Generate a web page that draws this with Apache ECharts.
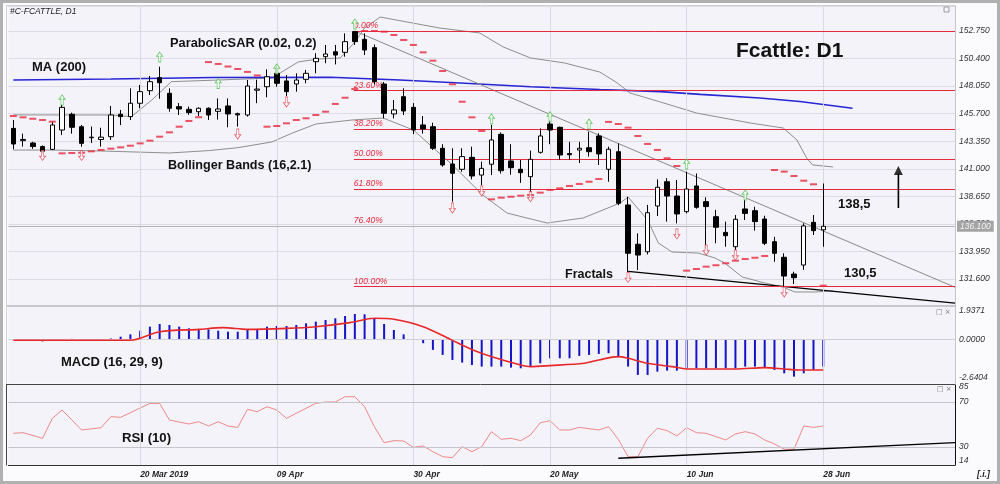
<!DOCTYPE html>
<html><head><meta charset="utf-8">
<script src="https://cdn.jsdelivr.net/npm/echarts@6.0.0/dist/echarts.min.js"></script>
<style>html,body{margin:0;padding:0;background:#fbfbfd}#c{width:1000px;height:484px}</style>
</head><body><div id="c"></div><script>
// ---------- categories ----------
const dates = ['2019-03-01','2019-03-04','2019-03-05','2019-03-06','2019-03-07','2019-03-08','2019-03-11','2019-03-12','2019-03-13','2019-03-14','2019-03-15','2019-03-18','2019-03-19','2019-03-20','2019-03-21','2019-03-22','2019-03-25','2019-03-26','2019-03-27','2019-03-28','2019-03-29',
'2019-04-01','2019-04-02','2019-04-03','2019-04-04','2019-04-05','2019-04-08','2019-04-09','2019-04-10','2019-04-11','2019-04-12','2019-04-15','2019-04-16','2019-04-17','2019-04-18','2019-04-22','2019-04-23','2019-04-24','2019-04-25','2019-04-26','2019-04-29','2019-04-30',
'2019-05-01','2019-05-02','2019-05-03','2019-05-06','2019-05-07','2019-05-08','2019-05-09','2019-05-10','2019-05-13','2019-05-14','2019-05-15','2019-05-16','2019-05-17','2019-05-20','2019-05-21','2019-05-22','2019-05-23','2019-05-24','2019-05-28','2019-05-29','2019-05-30','2019-05-31',
'2019-06-03','2019-06-04','2019-06-05','2019-06-06','2019-06-07','2019-06-10','2019-06-11','2019-06-12','2019-06-13','2019-06-14','2019-06-17','2019-06-18','2019-06-19','2019-06-20','2019-06-21','2019-06-24','2019-06-25','2019-06-26','2019-06-27','2019-06-28',
'2019-07-01','2019-07-02','2019-07-03','2019-07-05','2019-07-08','2019-07-09','2019-07-10','2019-07-11','2019-07-12','2019-07-15','2019-07-16','2019-07-17','2019-07-18'];
const tickDates = ['2019-03-20','2019-04-09','2019-04-30','2019-05-20','2019-06-10','2019-06-28'];
const tickLabels = ['20 Mar 2019','09 Apr','30 Apr','20 May','10 Jun','28 Jun'];
const priceTicks = {min:129.25, max:154.88, interval:2.35};
const macdTicks = [-2.6404, 0, 1.9371];
const rsiTicks = [14, 30, 70, 85];

// ---------- price: [open, close, low, high] ----------
const ohlc = [
[144.45,143.12,142.66,145.16],[143.40,143.50,142.90,144.00],[143.20,142.90,142.70,143.30],[142.90,142.50,142.30,143.00],
[142.66,144.74,142.60,145.02],[144.31,146.24,143.88,146.44],[145.65,144.54,144.00,145.79],[144.59,143.17,142.89,144.74],
[143.65,143.70,143.20,144.60],[143.50,143.70,142.90,144.50],[143.74,145.59,143.46,146.36],[145.65,145.45,144.74,146.02],
[145.45,146.59,145.16,147.86],[146.59,147.58,146.16,148.15],[147.66,148.43,147.29,148.91],[148.77,148.34,146.97,149.71],
[147.44,146.16,145.87,147.86],[146.30,146.10,145.59,146.61],[146.07,145.79,145.60,146.30],[145.87,146.16,145.50,146.24],
[146.16,145.59,145.16,146.24],[145.90,146.10,145.20,147.00],[146.36,145.68,144.54,147.00],[145.70,145.60,144.60,145.80],
[145.59,148.06,145.45,148.57],[147.70,147.80,146.60,148.60],[148.00,148.85,147.10,149.48],[149.14,148.29,148.00,149.80],
[148.49,147.58,147.20,149.00],[148.23,148.57,147.58,149.14],[148.63,149.14,148.29,149.43],[150.13,150.42,149.14,150.85],
[150.56,150.79,150.00,151.56],[150.98,150.70,149.90,151.56],[150.93,151.84,150.56,152.55],[152.70,151.84,151.56,152.75],
[152.04,151.13,150.70,152.55],[151.33,148.43,148.20,151.60],[148.23,145.73,145.30,148.40],[145.68,146.02,145.30,146.87],
[147.15,145.93,145.59,147.86],[146.24,144.31,143.97,146.60],[144.74,144.40,144.00,145.50],[144.59,142.75,142.60,144.93],
[142.75,141.33,141.18,143.10],[141.41,140.62,138.20,142.75],[140.96,142.04,140.75,142.75],[141.98,140.39,140.10,142.89],
[140.47,141.04,139.60,141.61],[141.39,143.46,140.47,144.74],[143.94,140.84,140.60,144.10],[141.67,141.10,140.50,143.10],
[140.96,140.67,139.80,141.75],[140.33,141.81,139.05,142.55],[142.41,143.80,142.30,144.45],[144.82,144.31,143.10,145.16],
[144.54,142.18,141.75,144.59],[142.30,142.20,141.75,143.30],[142.60,142.75,141.50,143.30],[142.80,142.46,142.04,144.17],
[143.80,142.27,141.33,144.03],[140.96,142.67,139.90,142.89],[142.46,138.06,137.90,143.17],[137.92,133.80,132.20,138.62],
[134.57,133.65,132.38,135.50],[133.93,137.26,133.70,137.92],[137.83,139.43,136.98,140.10],[139.90,138.68,136.50,140.20],
[138.68,137.15,136.35,140.05],[137.35,139.28,137.20,140.75],[139.54,137.72,137.60,140.60],[138.20,137.78,134.20,138.57],
[136.92,136.02,134.65,137.50],[135.58,135.30,134.36,136.50],[134.36,136.70,134.08,137.06],[137.58,137.20,136.64,138.34],
[137.43,136.50,135.73,137.77],[136.72,134.65,134.50,137.00],[134.79,133.80,133.08,135.20],[133.46,131.86,130.95,133.80],
[132.03,131.72,131.18,132.23],[132.80,136.13,132.38,136.36],[136.44,135.73,135.36,137.06],[135.80,136.10,134.36,139.75]
];

// ---------- overlays [barIndex, price] ----------
const ma200 = [[0,148.57],[10,148.66],[20.6,148.79],[32.5,148.80],[39.6,148.57],[45.8,148.32],[53,148.00],[60.1,147.76],[66.3,147.58],[70.4,147.35],[76.5,147.04],[80.6,146.74],[86,146.16]];
const bbUpper = [[0,145.60],[6,145.59],[10,145.59],[12.1,145.45],[14.2,146.87],[16.2,148.43],[21,148.57],[26.5,148.74],[29.2,150.11],[31.2,150.36],[33.5,150.45],[35,151.80],[36,153.00],[37.6,153.94],[43.7,153.00],[47.8,152.58],[50.2,151.39],[53,150.45],[56.5,150.02],[60.1,149.25],[61.9,148.32],[63.2,147.46],[66.3,146.70],[70,145.76],[75.5,144.91],[78.9,144.48],[80.3,143.46],[81.3,141.92],[81.9,141.33],[84,141.16]];
const bbLower = [[0,142.60],[4,142.60],[9,142.52],[16,142.35],[20,142.55],[23,142.80],[26.5,143.29],[28.6,144.05],[31,144.82],[34.7,145.16],[37.9,145.33],[41,144.31],[45,141.33],[48.1,138.77],[50.6,137.23],[54.7,136.38],[58.4,136.81],[62.2,138.09],[63,138.60],[65,136.64],[66.1,134.68],[67.5,133.91],[70.2,133.82],[71.9,133.40],[72.9,132.97],[74.7,131.78],[77,131.27],[78.8,130.93],[80.1,130.50],[82.2,130.50],[84,130.60]];
const sar = [145.50,145.39,145.27,145.16,145.02,142.32,142.35,142.37,142.49,142.61,142.72,142.83,142.97,143.17,143.40,143.74,144.11,144.59,145.08,145.40,
150.10,149.94,149.72,149.51,149.26,148.96,144.59,144.65,144.88,145.16,145.31,145.59,145.87,146.53,147.06,147.80,152.75,152.75,152.69,152.41,
151.98,151.56,150.93,150.22,149.34,148.21,146.72,145.39,144.23,138.40,138.54,138.62,138.71,138.77,138.97,139.20,139.34,139.54,139.71,139.90,
140.13,145.00,144.82,144.51,143.80,143.12,142.61,141.90,141.24,132.32,132.46,132.66,132.78,132.95,133.17,133.31,133.42,133.57,140.90,140.76,
140.39,139.99,139.68,131.04];
const fractalUp = [[5,146.87],[15,150.53],[21,148.27],[27,149.51],[35,153.35],[49,145.25],[55,145.44],[59,144.82],[69,141.41],[75,138.77]];
const fractalDown = [[3,142.14],[7,142.14],[23,143.97],[28,146.70],[45,137.66],[48,139.11],[53,138.63],[63,131.74],[68,135.45],[71,134.08],[74,133.65],[79,130.50]];
const fibNames = ['0.00%','23.60%','38.20%','50.00%','61.80%','76.40%','100.00%'];
const fibLevels = [152.75,147.66,144.40,141.83,139.26,136.10,130.95];
const fibStart = 34.9;
const resistLine = [[35,152.75],[96.5,130.90]];
const supportLine = [[63,132.25],[96.5,129.56]];
const upArrow = [[90.7,137.66],[90.7,140.60]];
const upArrowHead = [[90.7,140.85]];

// ---------- MACD ----------
const macd = [-0.03,-0.03,-0.06,-0.12,-0.06,0.01,0.03,-0.01,-0.01,0.01,0.05,0.16,0.30,0.52,0.76,0.92,0.86,0.76,0.66,0.60,
0.60,0.52,0.46,0.46,0.56,0.60,0.76,0.80,0.80,0.86,0.96,1.06,1.16,1.26,1.40,1.52,1.50,1.26,0.92,0.56,
0.30,0.02,-0.23,-0.63,-0.93,-1.23,-1.39,-1.53,-1.63,-1.63,-1.63,-1.69,-1.73,-1.63,-1.43,-1.13,-1.13,-1.13,-0.99,-0.93,
-0.87,-0.83,-1.07,-1.63,-2.13,-2.13,-1.93,-1.87,-1.87,-1.73,-1.73,-1.73,-1.73,-1.73,-1.73,-1.63,-1.63,-1.69,-1.83,-2.03,
-2.23,-2.03,-1.83,-1.63];
const macdSignal = [[0,-0.05],[12,-0.05],[15,0.46],[19,0.60],[21.5,0.70],[24,0.60],[28,0.66],[31,0.76],[34.5,1.00],[37,1.26],[39,1.20],[42,0.76],[44.8,0.00],[47.1,-0.63],[49.2,-1.07],[52,-1.53],[53,-1.63],[55,-1.57],[58.5,-1.43],[60,-1.23],[62,-1.03],[63,-1.13],[65,-1.43],[67.5,-1.63],[69,-1.77],[74,-1.77],[77,-1.69],[79,-1.77],[80.5,-1.83],[83,-1.83]];

// ---------- RSI ----------
const rsi = [[0,42.1],[1,42.7],[3,37.7],[4,55.4],[5,62.8],[7,45.1],[9,47.1],[10,56.9],[11,56.3],[14,68.7],[15,68.7],[16,53.9],[18,50.4],[19,52.4],[20,48.6],[21,52.4],[22,48.6],[23,47.4],[24,63.4],[25,61.3],[26,65.7],[27,62.8],[28,55.4],[29,59.9],[30,64.3],[31,68.7],[32,69.9],[33,69.9],[34,74.6],[35,74.6],[36,65.7],[37,48.0],[38,33.8],[39,35.6],[40,35.3],[41,29.7],[42,30.9],[43,25.8],[44,21.4],[45,20.5],[46,30.3],[47,25.8],[48,30.3],[49,43.6],[50,36.8],[51,37.7],[52,35.6],[53,40.6],[54,51.5],[55,53.3],[56,45.1],[57,45.1],[58,47.4],[59,46.2],[60,45.1],[61,48.0],[62,36.8],[63,21.4],[64,21.4],[65,37.7],[66,46.6],[67,44.5],[68,39.8],[69,47.1],[70,42.7],[71,42.1],[72,39.2],[73,36.2],[74,41.5],[75,43.6],[76,41.5],[77,36.2],[78,32.7],[79,28.0],[80,28.0],[81,48.6],[82,47.4],[83,48.6]];
const rsiLevels = [30, 70];
const rsiTrend = [[62,20.0],[96.5,33.8]];

// ---------- build ----------
const tickIdx = tickDates.map(d => dates.indexOf(d));
const lastClose = ohlc[ohlc.length - 1][1];
const N = dates.length;
const GL = 8.4, GR = 45;
const AX = {fontSize: 8.5, fontStyle: 'italic', color: '#333', fontFamily: '"Liberation Sans", Arial, sans-serif'};
const vGrid = {silent: true, symbol: 'none', label: {show: false}, lineStyle: {color: '#d9d9e3', type: 'solid', width: 1}, data: tickIdx.map(i => ({xAxis: i}))};
const catAxis = (g, showLab) => ({type: 'category', gridIndex: g, data: dates, boundaryGap: true,
  axisLine: {show: showLab, onZero: false, lineStyle: {color: '#333'}}, axisTick: {show: false}, splitLine: {show: false},
  axisLabel: showLab ? {show: true, interval: (i) => tickIdx.indexOf(i) >= 0, formatter: (v, i) => tickLabels[tickIdx.indexOf(i)] || '',
    align: 'left', margin: 5, fontSize: 8.5, fontStyle: 'italic', fontWeight: 'bold', color: '#222', fontFamily: '"Liberation Sans", Arial, sans-serif'} : {show: false}});
const valAxis = (g) => ({type: 'value', gridIndex: g, min: -0.5, max: N - 0.5, show: false});
const upPath = 'path://M4 0L8 5H5.5V12H2.5V5H0Z';
const dnPath = 'path://M2.5 0H5.5V7H8L4 12L0 7H2.5Z';
const txt = (t, x, y, size, extra) => Object.assign({type: 'text', x: x, y: y, z: 100,
  style: {text: t, font: 'bold ' + size + 'px "Liberation Sans", Arial, sans-serif', fill: '#111', verticalAlign: 'middle', align: 'left'}}, extra || {});

const option = {
  animation: false,
  backgroundColor: '#fbfbfd',
  grid: [
    {left: GL, right: GR, top: 6, height: 300.66, show: true, backgroundColor: '#f3f3f9', borderWidth: 0},
    {left: GL, right: GR, top: 307, height: 76.5, show: true, backgroundColor: '#f3f3f9', borderWidth: 0},
    {left: GL, right: GR, top: 385, height: 80, show: true, backgroundColor: '#f3f3f9', borderWidth: 0}
  ],
  xAxis: [catAxis(0, false), valAxis(0), catAxis(1, false), valAxis(1), catAxis(2, true), valAxis(2)],
  yAxis: [
    {type: 'value', gridIndex: 0, position: 'right', min: priceTicks.min, max: priceTicks.max, interval: priceTicks.interval,
     axisLine: {show: true, onZero: false, lineStyle: {color: '#c4c4cc'}}, axisTick: {show: false},
     splitLine: {show: true, lineStyle: {color: '#dcdce5', width: 1}},
     axisLabel: Object.assign({formatter: v => v.toFixed(3), showMinLabel: false, showMaxLabel: false, margin: 4}, AX)},
    {type: 'value', gridIndex: 1, position: 'right', min: macdTicks[0], max: macdTicks[2],
     axisLine: {show: true, onZero: false, lineStyle: {color: '#c4c4cc'}}, axisTick: {show: false}, splitLine: {show: false},
     axisLabel: Object.assign({customValues: macdTicks, margin: 4,
       formatter: v => v > 1 ? '{t|' + v.toFixed(4) + '}' : (v < -1 ? '{b|' + v.toFixed(4) + '}' : v.toFixed(4)),
       rich: {t: Object.assign({padding: [8, 0, 0, 0]}, AX), b: Object.assign({padding: [0, 0, 11, 0]}, AX)}}, AX)},
    {type: 'value', gridIndex: 2, position: 'right', min: rsiTicks[0], max: rsiTicks[3],
     axisLine: {show: true, onZero: false, lineStyle: {color: '#111'}}, axisTick: {show: false}, splitLine: {show: false},
     axisLabel: Object.assign({customValues: rsiTicks, margin: 4,
       formatter: v => v === 85 ? '{t|85}' : (v === 14 ? '{b|14}' : String(v)),
       rich: {t: Object.assign({padding: [4, 0, 0, 0]}, AX), b: Object.assign({padding: [0, 0, 8, 0]}, AX)}}, AX)}
  ],
  series: [
    // vertical grid lines
    {type: 'line', xAxisIndex: 1, yAxisIndex: 0, data: [], z: 1, markLine: vGrid},
    {type: 'line', xAxisIndex: 3, yAxisIndex: 1, data: [], z: 1, markLine: vGrid},
    {type: 'line', xAxisIndex: 5, yAxisIndex: 2, data: [], z: 1, markLine: vGrid},
    // Fibonacci levels
    {type: 'line', xAxisIndex: 1, yAxisIndex: 0, data: [], z: 2,
     markLine: {silent: true, symbol: 'none', lineStyle: {color: '#e8283c', width: 1, type: 'solid'},
       label: {position: 'insideStartTop', distance: [0, 1], color: '#e8283c', fontSize: 8.5, fontStyle: 'italic', fontFamily: '"Liberation Sans", Arial, sans-serif'},
       data: fibLevels.map((v, i) => [{coord: [fibStart, v], label: {formatter: fibNames[i]}}, {coord: [N - 0.5, v]}])}},
    // Bollinger bands
    {type: 'line', xAxisIndex: 1, yAxisIndex: 0, data: bbUpper, symbol: 'none', z: 3, lineStyle: {color: '#8e8e8e', width: 1}},
    {type: 'line', xAxisIndex: 1, yAxisIndex: 0, data: bbLower, symbol: 'none', z: 3, lineStyle: {color: '#8e8e8e', width: 1}},
    // MA 200
    {type: 'line', xAxisIndex: 1, yAxisIndex: 0, data: ma200, symbol: 'none', z: 3, lineStyle: {color: '#2626d6', width: 1.6}},
    // trend lines
    {type: 'line', xAxisIndex: 1, yAxisIndex: 0, data: resistLine, symbol: 'none', z: 3, lineStyle: {color: '#8a8a8a', width: 1}},
    {type: 'line', xAxisIndex: 1, yAxisIndex: 0, data: supportLine, symbol: 'none', z: 3, lineStyle: {color: '#000', width: 1.3}},
    // candles + bid line
    {type: 'candlestick', xAxisIndex: 0, yAxisIndex: 0, data: ohlc, barWidth: 5, z: 5,
     itemStyle: {color: '#ffffff', color0: '#000000', borderColor: '#000000', borderColor0: '#000000', borderWidth: 1},
     markLine: {silent: true, symbol: 'none', lineStyle: {color: '#b4b4b4', width: 1, type: 'solid'},
       label: {show: true, position: 'end', distance: 2, formatter: () => lastClose.toFixed(3), backgroundColor: '#a4a4a4', color: '#f4f4f4',
         padding: [1, 3], fontSize: 8.5, fontStyle: 'italic', fontFamily: '"Liberation Sans", Arial, sans-serif'},
       data: [{yAxis: lastClose}]}},
    // Parabolic SAR
    {type: 'scatter', xAxisIndex: 1, yAxisIndex: 0, data: sar.map((v, i) => [i, v]), symbol: 'rect', symbolSize: [7, 2], z: 6, itemStyle: {color: '#e8283c'}},
    // Fractals
    {type: 'scatter', xAxisIndex: 1, yAxisIndex: 0, data: fractalUp, symbol: upPath, symbolSize: [6, 10], z: 6, itemStyle: {color: '#f4fff4', borderColor: '#46bb46', borderWidth: 0.8}},
    {type: 'scatter', xAxisIndex: 1, yAxisIndex: 0, data: fractalDown, symbol: dnPath, symbolSize: [6, 10], z: 6, itemStyle: {color: '#fff4f4', borderColor: '#e0404e', borderWidth: 0.8}},
    // up arrow annotation
    {type: 'line', xAxisIndex: 1, yAxisIndex: 0, data: upArrow, symbol: 'none', z: 6, lineStyle: {color: '#000', width: 1.6}},
    {type: 'scatter', xAxisIndex: 1, yAxisIndex: 0, data: upArrowHead, symbol: 'triangle', symbolSize: [9, 9], z: 6, itemStyle: {color: '#000'}},
    // MACD
    {type: 'bar', xAxisIndex: 2, yAxisIndex: 1, data: macd, barWidth: 2, z: 4, itemStyle: {color: '#1414c8'},
     markLine: {silent: true, symbol: 'none', label: {show: false}, lineStyle: {color: '#cfcfd8', width: 1, type: 'solid'}, data: [{yAxis: 0}]}},
    {type: 'line', xAxisIndex: 3, yAxisIndex: 1, data: macdSignal, symbol: 'none', smooth: 0.3, z: 5, lineStyle: {color: '#e82828', width: 1.6}},
    // RSI
    {type: 'line', xAxisIndex: 5, yAxisIndex: 2, data: rsi, symbol: 'none', z: 4, lineStyle: {color: '#f08888', width: 1},
     markLine: {silent: true, symbol: 'none', label: {show: false}, lineStyle: {color: '#c4c4cc', width: 1, type: 'solid'}, data: rsiLevels.map(v => ({yAxis: v}))}},
    {type: 'line', xAxisIndex: 5, yAxisIndex: 2, data: rsiTrend, symbol: 'none', z: 5, lineStyle: {color: '#000', width: 1.3}}
  ],
  graphic: [
    {type: 'rect', z: 90, shape: {x: 1.5, y: 1.5, width: 997, height: 481}, style: {fill: 'none', stroke: '#b0b0b0', lineWidth: 3}},
    {type: 'line', z: 90, shape: {x1: 6, y1: 306, x2: 955, y2: 306}, style: {stroke: '#c8c8cc', lineWidth: 2}},
    {type: 'line', z: 90, shape: {x1: 6, y1: 384.5, x2: 955, y2: 384.5}, style: {stroke: '#444', lineWidth: 1}},
    {type: 'line', z: 90, shape: {x1: 6.5, y1: 385, x2: 6.5, y2: 465.5}, style: {stroke: '#444', lineWidth: 1}},
    {type: 'line', z: 90, shape: {x1: 6.5, y1: 5, x2: 6.5, y2: 384}, style: {stroke: '#d0d0d6', lineWidth: 1}},
    {type: 'line', z: 90, shape: {x1: 6, y1: 5.5, x2: 955, y2: 5.5}, style: {stroke: '#d0d0d6', lineWidth: 1}},
    {type: 'rect', z: 90, shape: {x: 944, y: 7, width: 5, height: 5}, style: {fill: 'none', stroke: '#888', lineWidth: 0.8}},
    {type: 'text', z: 100, x: 936, y: 312, style: {text: '□ ×', font: '7px "DejaVu Sans", sans-serif', fill: '#777', verticalAlign: 'middle'}},
    {type: 'text', z: 100, x: 937, y: 389, style: {text: '□ ×', font: '7px "DejaVu Sans", sans-serif', fill: '#777', verticalAlign: 'middle'}},
    {type: 'text', z: 100, x: 10, y: 12, style: {text: '#C-FCATTLE, D1', font: 'italic 8.5px "Liberation Sans", Arial, sans-serif', fill: '#222', verticalAlign: 'middle'}},
    {type: 'text', z: 100, x: 977, y: 475, style: {text: '[.i.]', font: 'bold italic 8.5px "Liberation Sans", Arial, sans-serif', fill: '#222', verticalAlign: 'middle'}},
    txt('Fcattle: D1', 736, 51, 21),
    txt('MA (200)', 32, 67, 13),
    txt('ParabolicSAR (0.02, 0.2)', 170, 43, 12.8),
    txt('Bollinger Bands (16,2.1)', 168, 166, 12.6),
    txt('Fractals', 565, 275, 12.5),
    txt('138,5', 838, 204, 13),
    txt('130,5', 844, 273, 13),
    txt('MACD (16, 29, 9)', 61, 362, 13),
    txt('RSI (10)', 122, 438, 13.2)
  ]
};
const chart = echarts.init(document.getElementById('c'), null, {renderer: 'canvas'});
chart.setOption(option);
</script></body></html>
